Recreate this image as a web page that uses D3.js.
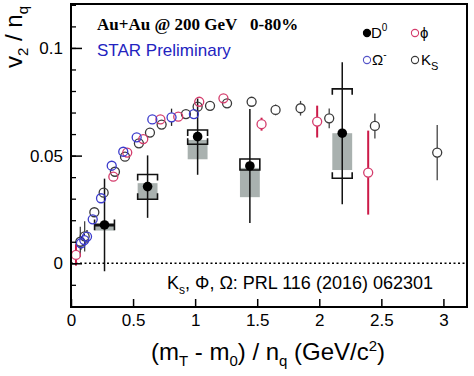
<!DOCTYPE html>
<html>
<head>
<meta charset="utf-8">
<script src="https://cdn.jsdelivr.net/npm/d3@7"></script>
<style>
  body { margin: 0; background: #fff; }
  text { font-family: "Liberation Sans", Arial, sans-serif; }
</style>
</head>
<body>
<div id="graph-holder"></div>
<script>
// Ks points: [x, v2/nq, err]
var ksData = [
  [0.075, 0.0100, 0.007], [0.11, 0.0125, 0.007], [0.188, 0.0237, 0.0015],
  [0.263, 0.0328, 0.0015], [0.354, 0.0425, 0.001], [0.435, 0.0495, 0.001],
  [0.547, 0.0557, 0.001], [0.636, 0.0607, 0.001], [0.730, 0.0644, 0.001],
  [0.926, 0.0693, 0.001], [1.02, 0.0727, 0.001], [1.12, 0.0731, 0.001],
  [1.257, 0.0743, 0.001], [1.455, 0.0750, 0.001], [1.648, 0.0712, 0.0025],
  [1.849, 0.0720, 0.0034], [2.08, 0.0673, 0.0046], [2.448, 0.0638, 0.0058],
  [2.95, 0.0514, 0.0128]
];
// phi points
var phiData = [
  [0.04, 0.0039, 0.005], [0.341, 0.0402, 0.001], [0.453, 0.0514, 0.001],
  [0.582, 0.0577, 0.001], [0.72, 0.0668, 0.001], [0.864, 0.0681, 0.001],
  [1.033, 0.0750, 0.001], [1.228, 0.0766, 0.001], [1.535, 0.0646, 0.003],
  [1.983, 0.0658, 0.0074], [2.394, 0.0421, 0.0195]
];
// omega points
var omegaData = [
  [0.08, 0.0093, 0.003], [0.107, 0.0108, 0.003], [0.129, 0.0124, 0.003],
  [0.175, 0.0204, 0.002], [0.242, 0.0302, 0.002], [0.328, 0.0453, 0.002],
  [0.421, 0.0518, 0.002], [0.529, 0.0585, 0.002], [0.655, 0.0668, 0.002],
  [0.81, 0.0678, 0.004], [0.99, 0.0693, 0.002]
];
// D0: x, value, stat err
var d0X = [0.27, 0.617, 1.02, 1.441, 2.185];
var d0Y = [0.0178, 0.0356, 0.0588, 0.0452, 0.0604];
var d0Stat = [0.0215, 0.0145, 0.0177, 0.0265, 0.033];
// gray systematic boxes [lo, hi]
var d0Gray = [[0.0152, 0.0178], [0.0297, 0.0372], [0.0483, 0.0573], [0.0307, 0.0443], [0.0433, 0.0604]];
// bracket systematic [lo, hi]
var d0Bracket = [[0.0175, 0.0181], [0.0297, 0.0412], [0.0553, 0.0619], [0.0433, 0.0484], [0.0395, 0.081]];
var d0HalfWidth = 0.08;

var xTicks = [0, 0.5, 1, 1.5, 2, 2.5, 3];
var yTicks = [0, 0.05, 0.1];
var yMinorTicks = d3.range(-0.02, 0.1201, 0.01);

var W = 474, H = 376;
var pLeft = 71, pRight = 467, pTop = 4, pBottom = 307;

var x = d3.scaleLinear().domain([0, 3.19]).range([pLeft, pRight]);
var y = d3.scaleLinear().domain([-0.0203, 0.1204]).range([pBottom, pTop]);

var svg = d3.select("#graph-holder")
  .append("svg")
  .attr("width", W)
  .attr("height", H);

var pink = "#d43c6c", blue = "#3b3bcc", ksCol = "#3a3a3a", grayBox = "#a9b1af";

// dotted zero line
svg.append("line")
  .attr("x1", pLeft).attr("x2", pRight)
  .attr("y1", y(0)).attr("y2", y(0))
  .attr("stroke", "#000")
  .attr("stroke-width", 1.6)
  .attr("stroke-dasharray", "2,2.5");

// D0 gray boxes
svg.selectAll(".gbox")
  .data(d0X)
  .enter()
  .append("rect")
  .attr("x", function(d) { return x(d - d0HalfWidth); })
  .attr("width", function(d) { return x(d + d0HalfWidth) - x(d - d0HalfWidth); })
  .attr("y", function(d, i) { return y(d0Gray[i][1]); })
  .attr("height", function(d, i) { return y(d0Gray[i][0]) - y(d0Gray[i][1]); })
  .attr("fill", grayBox);

// D0 brackets
svg.selectAll(".bracket")
  .data(d0X)
  .enter()
  .append("path")
  .attr("d", function(d, i) {
    var x0 = x(d - d0HalfWidth), x1 = x(d + d0HalfWidth);
    var yh = y(d0Bracket[i][1]), yl = y(d0Bracket[i][0]);
    return "M" + x0 + "," + (yh + 6) + "V" + yh + "H" + x1 + "V" + (yh + 6) +
      "M" + x0 + "," + (yl - 6) + "V" + yl + "H" + x1 + "V" + (yl - 6);
  })
  .attr("fill", "none")
  .attr("stroke", "#111")
  .attr("stroke-width", 1.6);

// D0 stat errors
svg.selectAll(".d0err")
  .data(d0X)
  .enter()
  .append("line")
  .attr("x1", function(d) { return x(d); })
  .attr("x2", function(d) { return x(d); })
  .attr("y1", function(d, i) { return y(d0Y[i] + d0Stat[i]); })
  .attr("y2", function(d, i) { return y(d0Y[i] - d0Stat[i]); })
  .attr("stroke", "#111")
  .attr("stroke-width", 1.5);

// open markers with error bars split around the marker
var r = 4.5;
function drawOpen(data, col, errCol, errWidth) {
  var g = svg.append("g");
  data.forEach(function(d) {
    var cx = x(d[0]), cy = y(d[1]);
    var yt = y(d[1] + d[2]), yb = y(d[1] - d[2]);
    if (cy - r > yt) {
      g.append("line").attr("x1", cx).attr("x2", cx).attr("y1", yt).attr("y2", cy - r)
        .attr("stroke", errCol).attr("stroke-width", errWidth);
      g.append("line").attr("x1", cx).attr("x2", cx).attr("y1", cy + r).attr("y2", yb)
        .attr("stroke", errCol).attr("stroke-width", errWidth);
    }
  });
  g.selectAll("circle")
    .data(data)
    .enter()
    .append("circle")
    .attr("cx", function(d) { return x(d[0]); })
    .attr("cy", function(d) { return y(d[1]); })
    .attr("r", r)
    .attr("fill", "none")
    .attr("stroke", col)
    .attr("stroke-width", 1.3);
}
drawOpen(ksData, ksCol, "#444", 1.3);
drawOpen(phiData, pink, "#cc1a48", 2);
drawOpen(omegaData, blue, "#222", 1.3);

// D0 markers
svg.selectAll(".d0")
  .data(d0X)
  .enter()
  .append("circle")
  .attr("cx", function(d) { return x(d); })
  .attr("cy", function(d, i) { return y(d0Y[i]); })
  .attr("r", 4.8)
  .attr("fill", "#000");

// frame
svg.append("rect")
  .attr("x", pLeft).attr("y", pTop)
  .attr("width", pRight - pLeft).attr("height", pBottom - pTop)
  .attr("fill", "none")
  .attr("stroke", "#000")
  .attr("stroke-width", 2);

// Add the X Axis (ticks point inward)
var xAxis = svg.append("g")
  .attr("transform", "translate(0," + pBottom + ")")
  .call(d3.axisBottom(x).tickValues(xTicks).tickSize(-8).tickPadding(7)
    .tickFormat(function(d) { return d3.format("")(d); }));
xAxis.select(".domain").remove();
xAxis.selectAll("line").attr("stroke", "#000").attr("stroke-width", 1.5);
xAxis.selectAll("text").attr("font-size", 17).attr("fill", "#000")
  .attr("font-family", "Liberation Sans, Arial, sans-serif");

// minor y ticks
svg.append("g")
  .attr("transform", "translate(" + pLeft + ",0)")
  .call(d3.axisLeft(y).tickValues(yMinorTicks).tickSize(-5).tickFormat(""))
  .call(function(g) { g.select(".domain").remove(); })
  .selectAll("line").attr("stroke", "#000").attr("stroke-width", 1.3);

// Add the Y Axis
var yAxis = svg.append("g")
  .attr("transform", "translate(" + pLeft + ",0)")
  .call(d3.axisLeft(y).tickValues(yTicks).tickSize(-11).tickPadding(8)
    .tickFormat(function(d) { return d3.format("")(d); }));
yAxis.select(".domain").remove();
yAxis.selectAll("line").attr("stroke", "#000").attr("stroke-width", 1.5);
yAxis.selectAll("text").attr("font-size", 17).attr("fill", "#000")
  .attr("font-family", "Liberation Sans, Arial, sans-serif")
  .attr("x", -8);

// header texts
svg.append("text")
  .attr("x", 97).attr("y", 30)
  .style("font-family", "Liberation Serif, Times New Roman, serif")
  .style("font-weight", "bold")
  .style("font-size", "17px")
  .text("Au+Au @ 200 GeV");
svg.append("text")
  .attr("x", 250).attr("y", 30)
  .style("font-family", "Liberation Serif, Times New Roman, serif")
  .style("font-weight", "bold")
  .style("font-size", "17px")
  .text("0-80%");
svg.append("text")
  .attr("x", 97).attr("y", 56)
  .style("font-size", "17px")
  .attr("fill", "#2323c0")
  .text("STAR Preliminary");

// legend
var legendMarks = [
  { cx: 367, cy: 33, fill: "#000", stroke: "#000" },
  { cx: 415, cy: 33, fill: "none", stroke: pink },
  { cx: 367, cy: 60, fill: "none", stroke: "#5555c8" },
  { cx: 415, cy: 60, fill: "none", stroke: ksCol }
];
svg.selectAll(".legmark")
  .data(legendMarks)
  .enter()
  .append("circle")
  .attr("cx", function(d) { return d.cx; })
  .attr("cy", function(d) { return d.cy; })
  .attr("r", 3.6)
  .attr("fill", function(d) { return d.fill; })
  .attr("stroke", function(d) { return d.stroke; })
  .attr("stroke-width", 1.1);

var t1 = svg.append("text").attr("x", 371).attr("y", 38).style("font-size", "15px");
t1.append("tspan").text("D");
t1.append("tspan").attr("dy", -7).style("font-size", "10px").text("0");
svg.append("text").attr("x", 420).attr("y", 38).style("font-size", "15px").text("\u03d5");
var t3 = svg.append("text").attr("x", 372).attr("y", 65).style("font-size", "15px");
t3.append("tspan").text("\u03a9");
t3.append("tspan").attr("dy", -7).style("font-size", "10px").text("-");
var t4 = svg.append("text").attr("x", 421).attr("y", 65).style("font-size", "15px");
t4.append("tspan").text("K");
t4.append("tspan").attr("dy", 5).style("font-size", "11px").text("S");

// reference text
var ref = svg.append("text").attr("x", 167).attr("y", 289).style("font-size", "18px");
ref.append("tspan").text("K");
ref.append("tspan").attr("dy", 5).style("font-size", "12px").text("s");
ref.append("tspan").attr("dy", -5).text(", \u03a6, \u03a9: PRL 116 (2016) 062301");

// x title
var xt = svg.append("text").attr("x", 268).attr("y", 360)
  .attr("text-anchor", "middle").style("font-size", "24px");
xt.append("tspan").text("(m");
xt.append("tspan").attr("dy", 6).style("font-size", "15px").text("T");
xt.append("tspan").attr("dy", -6).text(" - m");
xt.append("tspan").attr("dy", 6).style("font-size", "15px").text("0");
xt.append("tspan").attr("dy", -6).text(") / n");
xt.append("tspan").attr("dy", 6).style("font-size", "15px").text("q");
xt.append("tspan").attr("dy", -6).text(" (GeV/c");
xt.append("tspan").attr("dy", -9).style("font-size", "15px").text("2");
xt.append("tspan").attr("dy", 9).text(")");

// y title
var yt = svg.append("text")
  .attr("transform", "translate(22,68) rotate(-90)")
  .style("font-size", "24px");
yt.append("tspan").text("v");
yt.append("tspan").attr("dy", 6).style("font-size", "15px").text("2");
yt.append("tspan").attr("dy", -6).text(" / n");
yt.append("tspan").attr("dy", 6).style("font-size", "15px").text("q");
</script>
</body>
</html>
